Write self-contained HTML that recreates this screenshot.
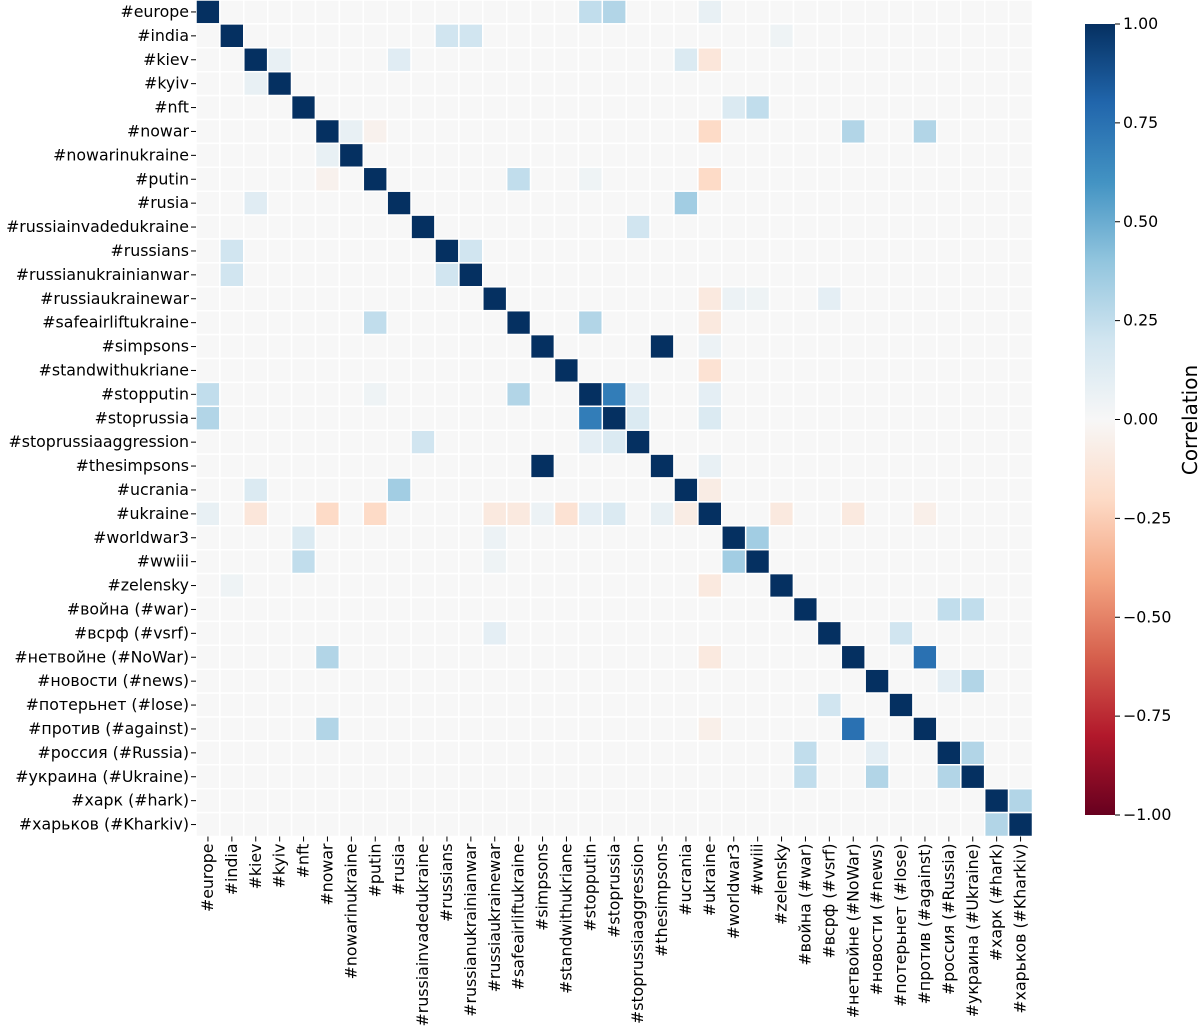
<!DOCTYPE html>
<html><head><meta charset="utf-8"><style>body{margin:0;background:#fff}svg{display:block}</style></head>
<body>
<svg id="chart" width="1200" height="1033" xmlns="http://www.w3.org/2000/svg" font-family="'DejaVu Sans','Liberation Sans',sans-serif"></svg>
<script>
const labels = ["#europe","#india","#kiev","#kyiv","#nft","#nowar","#nowarinukraine","#putin","#rusia","#russiainvadedukraine","#russians","#russianukrainianwar","#russiaukrainewar","#safeairliftukraine","#simpsons","#standwithukriane","#stopputin","#stoprussia","#stoprussiaaggression","#thesimpsons","#ucrania","#ukraine","#worldwar3","#wwiii","#zelensky","#война (#war)","#всрф (#vsrf)","#нетвойне (#NoWar)","#новости (#news)","#потерьнет (#lose)","#против (#against)","#россия (#Russia)","#украина (#Ukraine)","#харк (#hark)","#харьков (#Kharkiv)"];
// sparse symmetric correlations: [row, col, value]
const pairs = [
[0,16,0.25],[0,17,0.3],[0,21,0.08],
[1,10,0.2],[1,11,0.2],[1,24,0.05],
[2,3,0.08],[2,8,0.12],[2,20,0.15],[2,21,-0.12],
[4,22,0.15],[4,23,0.25],
[5,6,0.08],[5,21,-0.2],[5,27,0.3],[5,30,0.3],[5,7,-0.04],
[7,13,0.25],[7,21,-0.2],[7,16,0.05],
[8,20,0.35],
[9,18,0.2],
[10,11,0.2],
[12,21,-0.1],[12,22,0.06],[12,23,0.05],[12,26,0.1],
[13,16,0.3],[13,21,-0.1],
[14,19,1.0],[14,21,0.06],
[15,21,-0.15],
[16,17,0.7],[16,18,0.1],[16,21,0.1],
[17,18,0.15],[17,21,0.15],
[19,21,0.08],
[20,21,-0.08],
[21,24,-0.1],[21,27,-0.1],[21,30,-0.06],
[22,23,0.35],
[25,31,0.25],[25,32,0.25],
[26,29,0.2],
[27,30,0.75],
[28,32,0.3],[28,31,0.1],
[31,32,0.3],
[33,34,0.3]
];
const cbTicks = [1.0,0.75,0.5,0.25,0.0,-0.25,-0.5,-0.75,-1.0];
const stops = ["#67001f","#b2182b","#d6604d","#f4a582","#fddbc7","#f7f7f7","#d1e5f0","#92c5de","#4393c3","#2166ac","#053061"];
const NS="http://www.w3.org/2000/svg";
const svg=document.getElementById('chart');
const n=labels.length, X0=196, Y0=0, C=23.9, FS=15.8;
const M=[];for(let i=0;i<n;i++){M.push(new Array(n).fill(0));M[i][i]=1;}
pairs.forEach(p=>{M[p[0]][p[1]]=p[2];M[p[1]][p[0]]=p[2];});
function hex(h){return [1,3,5].map(k=>parseInt(h.substr(k,2),16));}
function color(v){v=Math.max(-1,Math.min(1,v));const t=(v+1)/2*10;const i=Math.min(9,Math.floor(t));const f=t-i;
const a=hex(stops[i]),b=hex(stops[i+1]);return 'rgb('+a.map((x,k)=>Math.round(x+(b[k]-x)*f)).join(',')+')';}
function el(tag,attrs,txt){const e=document.createElementNS(NS,tag);for(const k in attrs)e.setAttribute(k,attrs[k]);if(txt!==undefined)e.textContent=txt;svg.appendChild(e);return e;}
const xs=j=>X0+j*C, ys=i=>Y0+i*C;
for(let i=0;i<n;i++)for(let j=0;j<n;j++){
 const r=el('rect',{x:xs(j),y:ys(i),width:C,height:C,fill:color(M[i][j]),stroke:'#fff','stroke-width':1.5});
 
 
}
labels.forEach((l,i)=>{
 const y=ys(i)+C/2;
 el('line',{x1:X0-5,x2:X0,y1:y,y2:y,stroke:'#000','stroke-width':1});
 const t=el('text',{x:X0-7,y:y+5,'text-anchor':'end','font-size':FS},l);
 
 
 const x=xs(i)+C/2, yb=Y0+n*C;
 el('line',{x1:x,x2:x,y1:yb,y2:yb+5,stroke:'#000','stroke-width':1});
 const tx=el('text',{x:0,y:0,'text-anchor':'end','font-size':FS,transform:'translate('+(x+5)+','+(yb+7)+') rotate(-90)'},l);
 
 
});
// colorbar
const CBX=1085,CBW=30,CBT=24,CBB=815;
const defs=el('defs',{});const g=document.createElementNS(NS,'linearGradient');g.setAttribute('id','cbg');g.setAttribute('x1',0);g.setAttribute('x2',0);g.setAttribute('y1',1);g.setAttribute('y2',0);defs.appendChild(g);
stops.forEach((s,k)=>{const st=document.createElementNS(NS,'stop');st.setAttribute('offset',k/10);st.setAttribute('stop-color',s);g.appendChild(st);});
const cb=el('rect',{x:CBX,y:CBT,width:CBW,height:CBB-CBT,fill:'url(#cbg)'});


const cy=v=>CBT+(1-v)/2*(CBB-CBT);
cbTicks.forEach(v=>{
 const y=cy(v);
 el('line',{x1:CBX+CBW,x2:CBX+CBW+5,y1:y,y2:y,stroke:'#000','stroke-width':1});
 const t=el('text',{x:CBX+CBW+8,y:y+5,'font-size':FS},(v<0?'\u2212':'')+Math.abs(v).toFixed(2));
 
 
});
const ct=el('text',{x:0,y:0,'text-anchor':'middle','font-size':20,transform:'translate(1197,420) rotate(-90)'},'Correlation');


</script>
</body></html>
